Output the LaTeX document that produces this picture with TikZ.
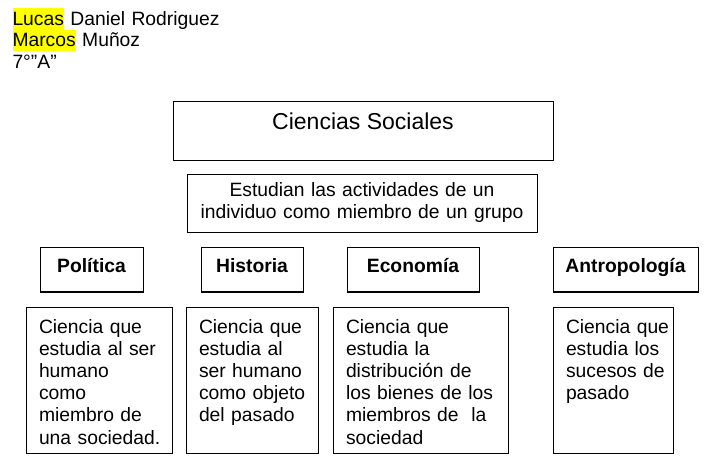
\documentclass[tikz,border=0pt]{standalone}
\usepackage{fontspec}
\setmainfont{Liberation Sans}
\usepackage{xcolor}
\definecolor{Resalte}{RGB}{255,255,0}
\newcommand{\letra}{\fontsize{19.3bp}{22.2bp}\selectfont}
\newcommand{\resaltar}[1]{{\setlength{\fboxsep}{0pt}\colorbox{Resalte}{\rule[-4.5bp]{0pt}{21.5bp}#1}}}

\begin{document}
\begin{tikzpicture}[x=1bp,y=-1bp,line width=1bp,every node/.style={font=\letra}]
   \useasboundingbox (0,0) rectangle (707,461);
   \tikzstyle{caja}=[draw=black, rectangle, inner sep=0pt, outer sep=0pt, anchor=north west]
   \node[anchor=north west, inner sep=0pt, text width=300bp, align=left, text height=18bp, font=\fontsize{19.3bp}{21.5bp}\selectfont] (alumnos) at (12,7) {\resaltar{Lucas} Daniel Rodriguez\\\resaltar{Marcos} Muñoz\\7°”A”};
   \node[caja, minimum width=380bp, minimum height=59bp, text height=28bp, text depth=31bp, font=\fontsize{23bp}{26bp}\selectfont] (ciencias) at (173,102) {Ciencias Sociales};
   \node[caja, text width=350bp, align=center, text height=21.5bp, text depth=36.5bp] (estudian) at (187,175) {Estudian las actividades de un\\individuo como miembro de un grupo};
   \foreach \x/\w/\nombre/\texto in {40/103/politica/{Política},201/102/historia/{Historia},347/132/economia/{Economía},553/145/antropologia/{Antropología}} {
       \node[caja, minimum width=\w bp, minimum height=44bp, text height=25bp, text depth=19bp, font=\letra\bfseries] (\nombre) at (\x,248) {\texto};
   }
   % cajas de definiciones: margen izquierdo con \leftskip
   \foreach \x/\w/\nombre/\texto in {26/146/defpolitica/{Ciencia que\\estudia al ser\\humano\\como\\miembro de\\una sociedad.},186/132/defhistoria/{Ciencia que\\estudia al\\ser humano\\como objeto\\del pasado},333/175/defeconomia/{Ciencia que\\estudia la\\distribución de\\los bienes de los\\miembros de\ \ la\\sociedad},553/120/defantropologia/{Ciencia que\\estudia los\\sucesos de\\pasado}} {
       \node[caja, text width=\w bp, align=left, text height=25bp, text depth=120bp] (\nombre) at (\x,308) {\leftskip=13bp\hyphenpenalty=10000\relax\texto\par};
   }
\end{tikzpicture}
\end{document}
